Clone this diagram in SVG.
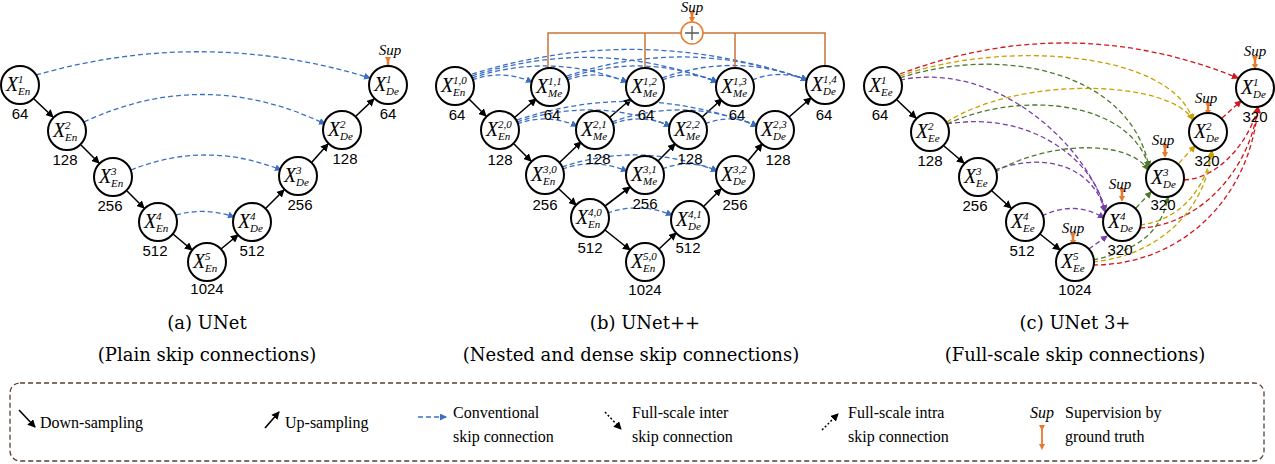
<svg xmlns="http://www.w3.org/2000/svg" width="1275" height="464" viewBox="0 0 1275 464">
<style>
.nd{fill:#fff;stroke:#000;stroke-width:2}
.x{font-family:"Liberation Serif",serif;font-style:italic;font-size:20px}
.s{font-size:11px}
.num{font-family:"Liberation Sans",sans-serif;font-size:15px;text-anchor:middle}
.cap{font-family:"DejaVu Serif",serif;font-size:18px;text-anchor:middle}
.sup{font-family:"Liberation Serif",serif;font-style:italic;font-size:15px;text-anchor:middle}
.lg{font-family:"Liberation Serif",serif;font-size:16px}
.dn{stroke:#000;stroke-width:1.6;fill:none;marker-end:url(#ab)}
.bl{stroke:#3b6fc4;stroke-width:1.3;stroke-dasharray:5 3;fill:none;marker-end:url(#abl)}
.pu{stroke:#7a3fa8;stroke-width:1.3;stroke-dasharray:5 3;fill:none;marker-end:url(#apu)}
.gr{stroke:#4d7a2a;stroke-width:1.3;stroke-dasharray:5 3;fill:none;marker-end:url(#agr)}
.ye{stroke:#c9a100;stroke-width:1.3;stroke-dasharray:5 3;fill:none;marker-end:url(#aye)}
.rd{stroke:#d0161c;stroke-width:1.3;stroke-dasharray:5 3;fill:none;marker-end:url(#ard)}
.or{stroke:#c8743a;stroke-width:1.5;fill:none}
.oa{stroke:#e87a2c;stroke-width:2.5;fill:none;marker-start:url(#aor);marker-end:url(#aor)}
</style>
<defs>
<marker id="ab" markerWidth="8" markerHeight="8" refX="7" refY="4" orient="auto" markerUnits="userSpaceOnUse"><path d="M0,0L8,4L0,8z" fill="#000"/></marker>
<marker id="abl" markerWidth="7" markerHeight="7" refX="6" refY="3.5" orient="auto" markerUnits="userSpaceOnUse"><path d="M0,0L7,3.5L0,7z" fill="#3b6fc4"/></marker>
<marker id="apu" markerWidth="7" markerHeight="7" refX="6" refY="3.5" orient="auto" markerUnits="userSpaceOnUse"><path d="M0,0L7,3.5L0,7z" fill="#7a3fa8"/></marker>
<marker id="agr" markerWidth="7" markerHeight="7" refX="6" refY="3.5" orient="auto" markerUnits="userSpaceOnUse"><path d="M0,0L7,3.5L0,7z" fill="#4d7a2a"/></marker>
<marker id="aye" markerWidth="7" markerHeight="7" refX="6" refY="3.5" orient="auto" markerUnits="userSpaceOnUse"><path d="M0,0L7,3.5L0,7z" fill="#c9a100"/></marker>
<marker id="ard" markerWidth="7" markerHeight="7" refX="6" refY="3.5" orient="auto" markerUnits="userSpaceOnUse"><path d="M0,0L7,3.5L0,7z" fill="#d0161c"/></marker>
<marker id="aor" markerWidth="6" markerHeight="6" refX="3" refY="3" orient="auto" markerUnits="userSpaceOnUse"><path d="M0,0L6,3L0,6z" fill="#e87a2c"/></marker>
</defs>

<g id="connectors">
<!-- (a) -->
<path class="dn" d="M34,99L53,117"/><path class="dn" d="M81,145L99,163"/><path class="dn" d="M127,191L144,208"/><path class="dn" d="M173,234L192,250"/><path class="dn" d="M221,249L238,235"/><path class="dn" d="M266,208L284,190"/><path class="dn" d="M312,162L328,144"/><path class="dn" d="M356,116L374,99"/>
<path class="bl" d="M36,75Q204,27 370,78"/>
<path class="bl" d="M84,122Q204,66 325,124"/>
<path class="bl" d="M131,170Q206,140 281,170"/>
<path class="bl" d="M176,215Q205,207 234,217"/>
<path class="oa" d="M388,60L388,68"/>
<!-- (b) -->
<path class="dn" d="M469,99L486,116"/><path class="dn" d="M514,144L531,161"/><path class="dn" d="M559,189L576,205"/><path class="dn" d="M605,230L630,250"/><path class="dn" d="M514,118L536,99"/><path class="dn" d="M559,163L581,142"/><path class="dn" d="M609,118L631,99"/><path class="dn" d="M605,206L630,187"/><path class="dn" d="M658,161L675,144"/><path class="dn" d="M701,118L722,99"/><path class="dn" d="M659,249L676,233"/><path class="dn" d="M704,206L721,189"/><path class="dn" d="M748,161L762,144"/><path class="dn" d="M789,117L811,98"/>
<path class="bl" d="M472,80Q502,69 532,82"/><path class="bl" d="M472,78Q550,52 627,82"/><path class="bl" d="M472,76Q595,36 717,82"/><path class="bl" d="M472,74Q640,22 807,80"/><path class="bl" d="M567,80Q597,69 627,82"/><path class="bl" d="M567,78Q642,52 717,82"/><path class="bl" d="M567,76Q687,36 807,80"/><path class="bl" d="M662,80Q690,69 717,82"/><path class="bl" d="M662,78Q735,52 807,80"/><path class="bl" d="M752,80Q780,69 807,80"/>
<path class="bl" d="M517,124Q547,113 577,126"/><path class="bl" d="M517,122Q595,96 670,126"/><path class="bl" d="M517,120Q638,80 757,126"/><path class="bl" d="M612,124Q642,113 670,126"/><path class="bl" d="M612,122Q685,96 757,126"/><path class="bl" d="M705,124Q732,113 757,126"/>
<path class="bl" d="M562,169Q595,158 627,171"/><path class="bl" d="M562,167Q640,141 717,171"/><path class="bl" d="M662,169Q690,158 717,171"/>
<path class="bl" d="M607,213Q640,202 672,215"/>
<path class="or" d="M548,68V33H681M703,33H825V66M645,33V68M735,33V68"/>
<path class="oa" d="M692,14L692,20"/>
<!-- (c) -->
<path class="dn" d="M897,100L916,118"/><path class="dn" d="M944,146L964,163"/><path class="dn" d="M992,191L1011,208"/><path class="dn" d="M1040,234L1060,250"/>
<path class="pu" d="M1089,249L1107,236"/>
<path class="gr" d="M1136,208L1151,192"/>
<path class="ye" d="M1179,163L1195,146"/>
<path class="rd" d="M1222,118L1241,101"/>
<path class="pu" d="M900,80C1000,60 1090,150 1105,211"/><path class="pu" d="M947,124C1030,110 1095,160 1105,211"/><path class="pu" d="M995,170C1050,150 1095,170 1105,212"/><path class="pu" d="M1042,216Q1075,200 1104,218"/>
<path class="gr" d="M900,78C1000,45 1130,70 1149,167"/><path class="gr" d="M947,124C1020,90 1130,100 1149,167"/><path class="gr" d="M995,172C1050,140 1130,140 1148,170"/>
<path class="ye" d="M900,76C1000,40 1170,50 1193,120"/><path class="ye" d="M947,122C1020,75 1170,80 1193,120"/>
<path class="rd" d="M900,74Q1070,10 1238,78"/>
<path class="rd" d="M1184,180C1220,178 1250,140 1258,107"/><path class="rd" d="M1140,228C1200,225 1250,170 1258,107"/><path class="rd" d="M1093,265C1180,265 1250,200 1258,107"/>
<path class="ye" d="M1140,225C1180,220 1205,190 1212,151"/><path class="ye" d="M1093,262C1160,255 1205,210 1212,151"/>
<path class="gr" d="M1093,260C1140,250 1162,230 1168,197"/>
<path class="oa" d="M1122,191L1122,199"/><path class="oa" d="M1165,147L1165,155"/><path class="oa" d="M1208,105L1208,113"/><path class="oa" d="M1255,59L1255,67"/><path class="oa" d="M1073,236L1073,243"/>
</g>

<g id="a-nodes">
<g id="a1"><circle class="nd" cx="20" cy="85" r="19"/><text class="x" x="6" y="91">X<tspan class="s" x="18" y="83">1</tspan><tspan class="s" x="18" y="95">En</tspan></text><text class="num" x="20" y="119">64</text></g>
<g id="a2"><circle class="nd" cx="67" cy="131" r="19"/><text class="x" x="53" y="137">X<tspan class="s" x="65" y="129">2</tspan><tspan class="s" x="65" y="141">En</tspan></text><text class="num" x="65" y="165">128</text></g>
<g id="a3"><circle class="nd" cx="113" cy="177" r="19"/><text class="x" x="99" y="183">X<tspan class="s" x="111" y="175">3</tspan><tspan class="s" x="111" y="187">En</tspan></text><text class="num" x="110" y="211">256</text></g>
<g id="a4"><circle class="nd" cx="158" cy="222" r="19"/><text class="x" x="144" y="228">X<tspan class="s" x="156" y="220">4</tspan><tspan class="s" x="156" y="232">En</tspan></text><text class="num" x="155" y="256">512</text></g>
<g id="a5"><circle class="nd" cx="207" cy="262" r="19" stroke-width="2.5"/><text class="x" x="193" y="268">X<tspan class="s" x="205" y="260">5</tspan><tspan class="s" x="205" y="272">En</tspan></text><text class="num" x="207" y="294">1024</text></g>
<g id="a6"><circle class="nd" cx="252" cy="222" r="19"/><text class="x" x="238" y="228">X<tspan class="s" x="250" y="220">4</tspan><tspan class="s" x="250" y="232">De</tspan></text><text class="num" x="252" y="256">512</text></g>
<g id="a7"><circle class="nd" cx="298" cy="176" r="19"/><text class="x" x="284" y="182">X<tspan class="s" x="296" y="174">3</tspan><tspan class="s" x="296" y="186">De</tspan></text><text class="num" x="300" y="210">256</text></g>
<g id="a8"><circle class="nd" cx="342" cy="130" r="19"/><text class="x" x="328" y="136">X<tspan class="s" x="340" y="128">2</tspan><tspan class="s" x="340" y="140">De</tspan></text><text class="num" x="345" y="164">128</text></g>
<g id="a9"><circle class="nd" cx="388" cy="85" r="19"/><text class="x" x="374" y="91">X<tspan class="s" x="386" y="83">1</tspan><tspan class="s" x="386" y="95">De</tspan></text><text class="num" x="388" y="119">64</text><text class="sup" x="390" y="55">Sup</text></g>
</g>

<g id="b-nodes">
<g id="b10"><circle class="nd" cx="455" cy="86" r="19"/><text class="x" x="441" y="92">X<tspan class="s" x="453" y="84">1,0</tspan><tspan class="s" x="453" y="96">En</tspan></text><text class="num" x="457" y="120">64</text></g>
<g id="b11"><circle class="nd" cx="550" cy="87" r="19"/><text class="x" x="536" y="93">X<tspan class="s" x="548" y="85">1,1</tspan><tspan class="s" x="548" y="97">Me</tspan></text><text class="num" x="552" y="120">64</text></g>
<g id="b12"><circle class="nd" cx="645" cy="87" r="19"/><text class="x" x="631" y="93">X<tspan class="s" x="643" y="85">1,2</tspan><tspan class="s" x="643" y="97">Me</tspan></text><text class="num" x="646" y="120">64</text></g>
<g id="b13"><circle class="nd" cx="735" cy="87" r="19"/><text class="x" x="721" y="93">X<tspan class="s" x="733" y="85">1,3</tspan><tspan class="s" x="733" y="97">Me</tspan></text><text class="num" x="737" y="120">64</text></g>
<g id="b14"><circle class="nd" cx="825" cy="85" r="19"/><text class="x" x="811" y="91">X<tspan class="s" x="823" y="83">1,4</tspan><tspan class="s" x="823" y="95">De</tspan></text><text class="num" x="824" y="120">64</text></g>
<g id="b20"><circle class="nd" cx="500" cy="130" r="19"/><text class="x" x="486" y="136">X<tspan class="s" x="498" y="128">2,0</tspan><tspan class="s" x="498" y="140">En</tspan></text><text class="num" x="500" y="165">128</text></g>
<g id="b21"><circle class="nd" cx="595" cy="130" r="19"/><text class="x" x="581" y="136">X<tspan class="s" x="593" y="128">2,1</tspan><tspan class="s" x="593" y="140">Me</tspan></text><text class="num" x="598" y="164">128</text></g>
<g id="b22"><circle class="nd" cx="688" cy="130" r="19"/><text class="x" x="674" y="136">X<tspan class="s" x="686" y="128">2,2</tspan><tspan class="s" x="686" y="140">Me</tspan></text><text class="num" x="690" y="164">128</text></g>
<g id="b23"><circle class="nd" cx="775" cy="130" r="19"/><text class="x" x="761" y="136">X<tspan class="s" x="773" y="128">2,3</tspan><tspan class="s" x="773" y="140">De</tspan></text><text class="num" x="778" y="165">128</text></g>
<g id="b30"><circle class="nd" cx="545" cy="175" r="19"/><text class="x" x="531" y="181">X<tspan class="s" x="543" y="173">3,0</tspan><tspan class="s" x="543" y="185">En</tspan></text><text class="num" x="545" y="210">256</text></g>
<g id="b31"><circle class="nd" cx="645" cy="175" r="19"/><text class="x" x="631" y="181">X<tspan class="s" x="643" y="173">3,1</tspan><tspan class="s" x="643" y="185">Me</tspan></text><text class="num" x="645" y="209">256</text></g>
<g id="b32"><circle class="nd" cx="735" cy="175" r="19"/><text class="x" x="721" y="181">X<tspan class="s" x="733" y="173">3,2</tspan><tspan class="s" x="733" y="185">De</tspan></text><text class="num" x="735" y="210">256</text></g>
<g id="b40"><circle class="nd" cx="590" cy="218" r="19"/><text class="x" x="576" y="224">X<tspan class="s" x="588" y="216">4,0</tspan><tspan class="s" x="588" y="228">En</tspan></text><text class="num" x="590" y="253">512</text></g>
<g id="b41"><circle class="nd" cx="690" cy="220" r="19"/><text class="x" x="676" y="226">X<tspan class="s" x="688" y="218">4,1</tspan><tspan class="s" x="688" y="230">De</tspan></text><text class="num" x="688" y="253">512</text></g>
<g id="b50"><circle class="nd" cx="645" cy="262" r="19"/><text class="x" x="631" y="268">X<tspan class="s" x="643" y="260">5,0</tspan><tspan class="s" x="643" y="272">En</tspan></text><text class="num" x="645" y="295">1024</text></g>
<g id="bsum"><circle cx="692" cy="33" r="11" fill="#fff" stroke="#e87a2c" stroke-width="1.5"/><path d="M685,33H699M692,26V40" stroke="#555" stroke-width="1.3"/><text class="sup" x="692" y="12">Sup</text></g>
</g>

<g id="c-nodes">
<g id="c1"><circle class="nd" cx="883" cy="86" r="19"/><text class="x" x="869" y="92">X<tspan class="s" x="881" y="84">1</tspan><tspan class="s" x="881" y="96">Ee</tspan></text><text class="num" x="880" y="120">64</text></g>
<g id="c2"><circle class="nd" cx="930" cy="132" r="19"/><text class="x" x="916" y="138">X<tspan class="s" x="928" y="130">2</tspan><tspan class="s" x="928" y="142">Ee</tspan></text><text class="num" x="930" y="166">128</text></g>
<g id="c3"><circle class="nd" cx="978" cy="177" r="19"/><text class="x" x="964" y="183">X<tspan class="s" x="976" y="175">3</tspan><tspan class="s" x="976" y="187">Ee</tspan></text><text class="num" x="975" y="211">256</text></g>
<g id="c4"><circle class="nd" cx="1025" cy="222" r="19"/><text class="x" x="1011" y="228">X<tspan class="s" x="1023" y="220">4</tspan><tspan class="s" x="1023" y="232">Ee</tspan></text><text class="num" x="1022" y="256">512</text></g>
<g id="c5"><circle class="nd" cx="1075" cy="262" r="19" stroke-width="2.5"/><text class="x" x="1061" y="268">X<tspan class="s" x="1073" y="260">5</tspan><tspan class="s" x="1073" y="272">Ee</tspan></text><text class="num" x="1075" y="295">1024</text><text class="sup" x="1073" y="233">Sup</text></g>
<g id="c6"><circle class="nd" cx="1122" cy="222" r="19"/><text class="x" x="1108" y="228">X<tspan class="s" x="1120" y="220">4</tspan><tspan class="s" x="1120" y="232">De</tspan></text><text class="num" x="1120" y="255">320</text><text class="sup" x="1120" y="189">Sup</text></g>
<g id="c7"><circle class="nd" cx="1165" cy="178" r="19"/><text class="x" x="1151" y="184">X<tspan class="s" x="1163" y="176">3</tspan><tspan class="s" x="1163" y="188">De</tspan></text><text class="num" x="1163" y="210">320</text><text class="sup" x="1163" y="145">Sup</text></g>
<g id="c8"><circle class="nd" cx="1208" cy="132" r="19"/><text class="x" x="1194" y="138">X<tspan class="s" x="1206" y="130">2</tspan><tspan class="s" x="1206" y="142">De</tspan></text><text class="num" x="1207" y="166">320</text><text class="sup" x="1206" y="103">Sup</text></g>
<g id="c9"><circle class="nd" cx="1255" cy="88" r="19"/><text class="x" x="1241" y="94">X<tspan class="s" x="1253" y="86">1</tspan><tspan class="s" x="1253" y="98">De</tspan></text><text class="num" x="1255" y="122">320</text><text class="sup" x="1255" y="56">Sup</text></g>
</g>

<g id="captions">
<text class="cap" x="207" y="329">(a)  UNet</text>
<text class="cap" x="207" y="361">(Plain skip connections)</text>
<text class="cap" x="645" y="329">(b)  UNet++</text>
<text class="cap" x="631" y="361">(Nested and dense skip connections)</text>
<text class="cap" x="1075" y="329">(c)  UNet 3+</text>
<text class="cap" x="1075" y="361">(Full-scale skip connections)</text>
</g>

<g id="legend">
<rect x="10" y="383" width="1254" height="78" rx="10" fill="none" stroke="#5a4030" stroke-width="1.3" stroke-dasharray="5 3"/>
<path class="dn" d="M19,410L35,427"/>
<text class="lg" x="40" y="428">Down-sampling</text>
<path class="dn" d="M265,428L279,412"/>
<text class="lg" x="285" y="428">Up-sampling</text>
<path class="bl" d="M418,417L446,417" stroke-dasharray="2 2"/>
<text class="lg" x="453" y="418">Conventional</text>
<text class="lg" x="453" y="442">skip connection</text>
<path d="M605,412L621,429" stroke="#000" stroke-width="1.5" stroke-dasharray="2 2" marker-end="url(#ab)"/>
<text class="lg" x="632" y="418">Full-scale inter</text>
<text class="lg" x="632" y="442">skip connection</text>
<path d="M822,430L838,414" stroke="#000" stroke-width="1.5" stroke-dasharray="2 2" marker-end="url(#ab)"/>
<text class="lg" x="848" y="418">Full-scale intra</text>
<text class="lg" x="848" y="442">skip connection</text>
<text class="sup" x="1042" y="418" style="font-size:16px">Sup</text>
<path class="oa" d="M1042,428L1042,447" style="stroke-width:1.8"/>
<text class="lg" x="1065" y="418">Supervision by</text>
<text class="lg" x="1065" y="442">ground truth</text>
</g>
</svg>
